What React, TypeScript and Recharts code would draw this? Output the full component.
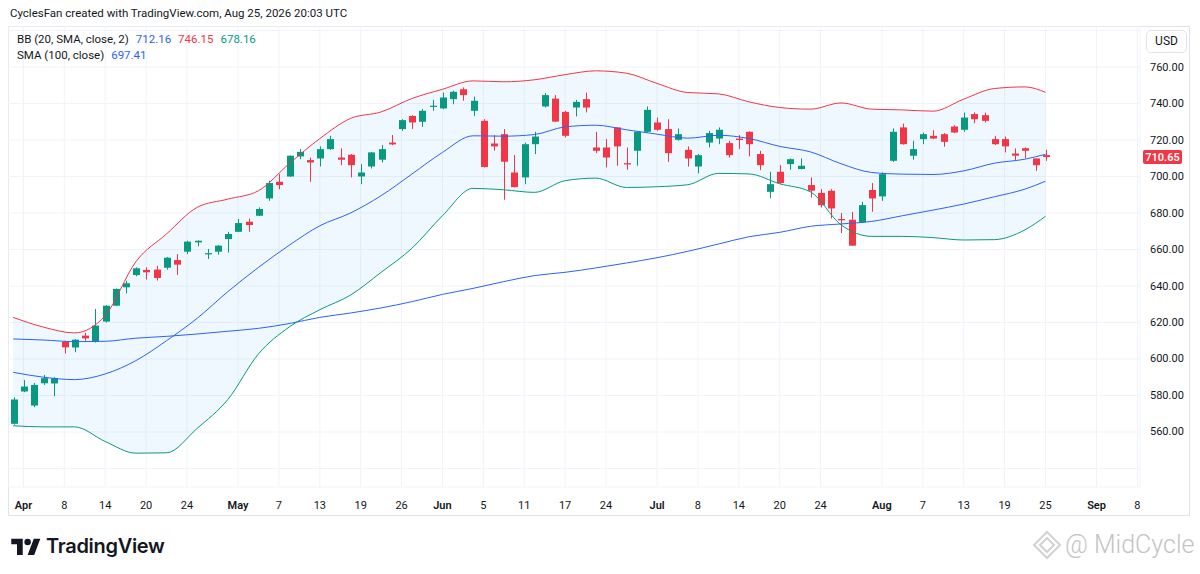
import {
  Area,
  Bar,
  CartesianGrid,
  ComposedChart,
  Line,
  ReferenceLine,
  XAxis,
  YAxis,
} from 'recharts'

// OHLC per trading day, Mar 31 -> Aug 25 (index = bar number)
const opens = [
  564.5, 582.2, 574.5, 586.7, 586.6, 609.5, 606.3, 612.8, 609.5, 620.5,
  629.2, 639.3, 646, 648.8, 649, 650, 654.2, 658.8, 663.9, 657.8,
  658.8, 665.7, 669.7, 675.2, 678.5, 688, 697.1, 700, 711, 709,
  709.9, 715, 710.4, 711.9, 700, 705.5, 709.2, 718.6, 726, 733.2,
  730, 738.5, 737.3, 742.4, 747.8, 736, 730.5, 718.1, 723.2, 702.2,
  699.5, 717.7, 738.4, 742.7, 735.4, 737.8, 742.4, 715.9, 715.9, 726.9,
  707.3, 714.1, 724.5, 729.6, 726, 720.1, 714.6, 705.5, 718.6, 720.8,
  718.3, 720.8, 724.5, 712.3, 691.6, 702.6, 706.8, 704.1, 695.3, 691,
  692.2, 676.7, 676.3, 674.9, 692.6, 689.1, 708.6, 726.9, 711.4, 720.5,
  722.3, 723.2, 727.4, 725.6, 734.2, 733.6, 720.5, 720.5, 712.6, 715.5,
  709.9, 711.7,
]
const highs = [
  579, 588.5, 586.9, 591.3, 590, 610, 610.8, 614.3, 627.4, 629.5,
  638.6, 642.9, 650.2, 650.2, 651.1, 655.9, 657.5, 664.8, 665, 660.3,
  662.4, 669.7, 676.7, 677, 683.1, 697.7, 701.3, 711.5, 715, 710.4,
  716.5, 722.3, 715.4, 712.3, 706.8, 713.5, 717.2, 722.7, 731.4, 733.6,
  737, 742, 746, 747, 748.8, 743.8, 731.4, 722.7, 726, 711.7,
  718.6, 724.5, 745.7, 744.6, 736, 742, 746, 724.5, 720.5, 727,
  715.9, 724.5, 738.4, 732.3, 731.4, 726.3, 716.5, 712.3, 725, 726.9,
  719.6, 722.7, 724.8, 714.1, 702.6, 706.2, 709.9, 709.9, 699.5, 693.1,
  693.1, 680, 680.6, 686.1, 696.4, 702.2, 726.3, 729, 719.6, 724.1,
  725.4, 723.8, 728.1, 735, 735.1, 735, 722.3, 721.9, 715.4, 715.9,
  709.9, 714.6,
]
const lows = [
  564, 581.8, 573.6, 585.8, 579.6, 603, 603.7, 610, 609, 620,
  629, 636, 645.3, 643.5, 643, 649, 646, 657.5, 661.7, 654.8,
  657.2, 658.4, 669.5, 669.7, 678.3, 686.7, 693, 699.8, 709.5, 697.1,
  705.5, 714.6, 706.2, 699.5, 695.8, 704.4, 707.7, 717.2, 725, 726,
  727.2, 736, 736.9, 739.6, 741.5, 733.2, 705, 714.1, 687.3, 694,
  695.8, 712.3, 737.8, 730, 721.4, 732.9, 735.1, 712.8, 705, 705.9,
  703.7, 705.9, 724, 725, 708, 719.6, 705.4, 701.7, 715.9, 717.7,
  710.4, 715, 711, 703.5, 688, 696, 703.7, 704, 688.5, 683,
  677, 669, 662, 674.5, 680.7, 686.7, 708, 717.5, 709.2, 717.7,
  720.5, 716.3, 723.8, 724.5, 729.2, 729.6, 717.2, 713.2, 709, 710,
  703.1, 708.6,
]
const closes = [
  577.8, 584.9, 585.8, 589.5, 589.5, 606.4, 610.6, 611.3, 618.3, 629.2,
  638.4, 641.5, 649.7, 647.5, 644.4, 655.5, 651.7, 664.3, 664.8, 658,
  662.1, 668.5, 674.5, 673.4, 682.2, 696.4, 695.3, 711.4, 713.5, 707.7,
  715, 720.5, 709.2, 706.2, 702.2, 713.2, 715, 717.6, 730.9, 729.6,
  736, 738.8, 743.3, 746.4, 744.6, 741.5, 705.2, 716.5, 708.1, 694.2,
  717.7, 721.9, 744.6, 730.1, 722.3, 740.9, 737.8, 714.1, 710.4, 716.5,
  706.6, 724.5, 736.5, 725.6, 712.8, 723.2, 709.9, 711.7, 723.8, 725.6,
  711.7, 720, 717.7, 706.2, 695.8, 696.4, 709.5, 705.9, 692.2, 684.3,
  682.5, 676, 662.1, 684.3, 688, 701.3, 724.5, 717.7, 715, 723.2,
  720.8, 719, 724.1, 732.3, 731.4, 730.5, 717.7, 716.5, 711.4, 714.1,
  706.2, 710.65,
]

// indicator readings, sampled every 3 bars
const bandIdx = [0, 3, 6, 9, 12, 15, 18, 21, 24, 27, 30, 33, 36, 39, 42, 45, 48, 51, 54, 57, 60, 63, 66, 69, 72, 75, 78, 81, 84, 87, 90, 93, 96, 99, 101]
const bbUpper = [
  622.8, 617.4, 614.3, 623.8, 653.3, 668.5, 683.1, 687.6, 692.2, 707, 720.8, 731.8,
  735.4, 742.7, 747.8, 752.4, 751.9, 753, 755.8, 757.9, 756.6, 751, 746, 745.3,
  740.9, 737.8, 736.9, 740.3, 736.9, 736.5, 735.8, 742.4, 748.2, 749.1, 746.15,
]
const bbBasis = [
  592.7, 590, 588.7, 591.8, 599.1, 610, 622.3, 636.9, 650.2, 662.3, 673, 680,
  689.5, 701.3, 713.2, 722.3, 722.1, 723, 727.2, 728.1, 725.6, 723.2, 721, 722.6,
  720.8, 716.5, 713.5, 707, 702.2, 701.3, 701.1, 703.1, 707.3, 709.5, 712.16,
]
const bbLower = [
  563.4, 562.8, 562.8, 554.8, 548.4, 548.6, 562, 577.8, 602.8, 617.5, 627, 635,
  647.5, 660.6, 678.5, 693.5, 692.7, 691.3, 697.7, 699.1, 694, 694.4, 695.5, 701.7,
  701.4, 696, 691.6, 673.5, 667.2, 667.2, 666.5, 665.2, 665.4, 670.8, 678.16,
]
const sma100 = [
  611, 610.4, 609.5, 609.7, 611.4, 612.4, 613.7, 615.2, 616.8, 619.4, 622.8, 625.2,
  628, 631.4, 635.4, 638.7, 642.4, 645.7, 647.5, 649.9, 652.6, 655.5, 659, 663,
  667, 669.4, 672.7, 674, 675.4, 678.5, 681.6, 684.9, 688.9, 693.1, 697.41,
]

const tickIdx = [1, 5, 9, 13, 17, 22, 26, 30, 34, 38, 42, 46, 50, 54, 58, 63, 67, 71, 75, 79, 85, 89, 93, 97, 101, 106, 110]
const tickText = ['Apr', '8', '14', '20', '24', 'May', '7', '13', '19', '26', 'Jun', '5', '11', '17', '24', 'Jul', '8', '14', '20', '24', 'Aug', '7', '13', '19', '25', 'Sep', '8']
const months = ['Apr', 'May', 'Jun', 'Jul', 'Aug', 'Sep']
const priceTicks = [540, 560, 580, 600, 620, 640, 660, 680, 700, 720, 740, 760, 780]

const UP = '#089981'
const DOWN = '#F23645'
const BLUE = '#2962FF'
const TEXT = '#131722'
const FONT = 'Roboto, "Noto Sans", sans-serif'

const CHART_W = 1182
const CHART_H = 490
const AXIS_W = 50
const AXIS_H = 29

const candles = opens.map((o, i) => ({ i, open: o, high: highs[i], low: lows[i], close: closes[i] }))
const bands = bandIdx.map((i, k) => ({
  i,
  range: [bbLower[k], bbUpper[k]],
  upper: bbUpper[k],
  basis: bbBasis[k],
  lower: bbLower[k],
  sma: sma100[k],
}))

function Candle(props: any) {
  const { x, y, width, height, payload } = props
  if (x == null || !payload) return null
  const top = Math.min(y, y + height)
  const h = Math.abs(height)
  const { open, high, low, close } = payload
  const span = high - low || 1
  const py = (v: number) => top + ((high - v) / span) * h
  const cx = Math.round(x + width / 2) + 0.5
  const color = close >= open ? UP : DOWN
  const b1 = py(Math.max(open, close))
  const b2 = py(Math.min(open, close))
  return (
    <g>
      <line x1={cx} x2={cx} y1={top} y2={top + h} stroke={color} strokeWidth={1} />
      <rect x={cx - 3.5} y={b1} width={7} height={Math.max(b2 - b1, 1.2)} fill={color} />
    </g>
  )
}

function DateTick(props: any) {
  const { x, payload } = props
  const k = tickIdx.indexOf(payload.value)
  const label = tickText[k] ?? ''
  return (
    <text
      x={x}
      y={CHART_H - AXIS_H + 18}
      textAnchor="middle"
      dominantBaseline="central"
      fontSize={11}
      fontFamily={FONT}
      fontWeight={months.includes(label) ? 600 : 400}
      fill={TEXT}
    >
      {label}
    </text>
  )
}

function PriceTick(props: any) {
  const { y, payload } = props
  if (payload.value < 560 || payload.value > 760) return null
  return (
    <text
      x={CHART_W - AXIS_W + 10}
      y={y}
      dominantBaseline="central"
      fontSize={11}
      fontFamily={FONT}
      fill={TEXT}
    >
      {payload.value.toFixed(2)}
    </text>
  )
}

function LastPrice(props: any) {
  const vb = props.viewBox
  if (!vb) return null
  const x0 = vb.x + vb.width + 3
  return (
    <g>
      <rect x={x0} y={vb.y - 7} width={39} height={14} rx={2} fill={DOWN} />
      <text x={x0 + 19.5} y={vb.y} textAnchor="middle" dominantBaseline="central" fontSize={11} fontWeight={600} fontFamily={FONT} fill="#fff">
        {closes[closes.length - 1].toFixed(2)}
      </text>
    </g>
  )
}

export default function App() {
  return (
    <div style={{ position: 'absolute', left: 0, top: 0, width: 1200, height: 574, background: '#fff', fontFamily: FONT, color: TEXT, overflow: 'hidden' }}>
      <div style={{ position: 'absolute', left: 10, top: 5, fontSize: 11.5, lineHeight: '16px', whiteSpace: 'nowrap' }}>
        CyclesFan created with TradingView.com, Aug 25, 2026 20:03 UTC
      </div>

      <div style={{ position: 'absolute', left: 8, top: 26, width: CHART_W, height: CHART_H, boxSizing: 'border-box', border: '1px solid #e0e3eb' }} />

      <div style={{ position: 'absolute', left: 8, top: 26 }}>
        <ComposedChart width={CHART_W} height={CHART_H} data={candles} margin={{ top: 0, right: 0, bottom: 0, left: 0 }}>
          <CartesianGrid stroke="#f0f3fa" />
          <XAxis
            dataKey="i"
            type="number"
            domain={[-0.509, 110.25]}
            allowDataOverflow
            ticks={tickIdx}
            interval={0}
            height={AXIS_H}
            axisLine={false}
            tickLine={false}
            tick={<DateTick />}
          />
          <YAxis
            orientation="right"
            type="number"
            domain={[529.86, 782.47]}
            allowDataOverflow
            ticks={priceTicks}
            interval={0}
            width={AXIS_W}
            axisLine={false}
            tickLine={false}
            tick={<PriceTick />}
          />
          <Area data={bands} dataKey="range" type="monotone" stroke="none" fill="#2196F3" fillOpacity={0.07} isAnimationActive={false} />
          <Line data={bands} dataKey="sma" type="monotone" stroke={BLUE} strokeWidth={1} dot={false} isAnimationActive={false} />
          <Line data={bands} dataKey="upper" type="monotone" stroke={DOWN} strokeWidth={1} dot={false} isAnimationActive={false} />
          <Line data={bands} dataKey="basis" type="monotone" stroke={BLUE} strokeWidth={1} dot={false} isAnimationActive={false} />
          <Line data={bands} dataKey="lower" type="monotone" stroke={UP} strokeWidth={1} dot={false} isAnimationActive={false} />
          <Bar dataKey={(d: any) => [d.low, d.high]} barSize={7} shape={<Candle />} isAnimationActive={false} />
          <ReferenceLine y={closes[closes.length - 1]} stroke="none" label={<LastPrice />} />
        </ComposedChart>
      </div>

      <div style={{ position: 'absolute', left: 17, top: 31, fontSize: 11.5, lineHeight: '16px', whiteSpace: 'nowrap' }}>
        BB (20, SMA, close, 2)
        <span style={{ color: BLUE, marginLeft: 7 }}>712.16</span>
        <span style={{ color: DOWN, marginLeft: 7 }}>746.15</span>
        <span style={{ color: UP, marginLeft: 7 }}>678.16</span>
      </div>
      <div style={{ position: 'absolute', left: 17, top: 47, fontSize: 11.5, lineHeight: '16px', whiteSpace: 'nowrap' }}>
        SMA (100, close)
        <span style={{ color: BLUE, marginLeft: 7 }}>697.41</span>
      </div>

      <div style={{ position: 'absolute', left: 1146, top: 30, width: 41, height: 23, boxSizing: 'border-box', border: '1px solid #e0e3eb', borderRadius: 5, fontSize: 12, lineHeight: '21px', textAlign: 'center' }}>
        USD
      </div>

      <div style={{ position: 'absolute', left: 11, top: 534, display: 'flex', alignItems: 'center' }}>
        <svg width={30} height={18} viewBox="0 0 36 22">
          <path d="M14 22H7V9H0V2h14v20z" fill="#131722" />
          <circle cx={20} cy={6} r={4} fill="#131722" />
          <path d="M28 22h-8L27.5 2h8L28 22z" fill="#131722" />
        </svg>
        <span style={{ marginLeft: 5, fontFamily: 'Inter, Roboto, sans-serif', fontWeight: 600, fontSize: 20, letterSpacing: -0.3 }}>TradingView</span>
      </div>

      <div style={{ position: 'absolute', left: 1032, top: 530, display: 'flex', alignItems: 'center', color: '#c4c4c4', whiteSpace: 'nowrap' }}>
        <svg width={30} height={30} viewBox="0 0 30 30">
          <path d="M15 2 L28 15 L15 28 L2 15 Z" fill="none" stroke="#d2d2d2" strokeWidth={2} />
          <path d="M15 8 L22 15 L15 22 L8 15 Z" fill="none" stroke="#d2d2d2" strokeWidth={2} />
        </svg>
        <span style={{ marginLeft: 3, fontSize: 25, fontWeight: 300, fontFamily: 'Roboto, sans-serif', lineHeight: '30px' }}>@ MidCycle</span>
      </div>
    </div>
  )
}
